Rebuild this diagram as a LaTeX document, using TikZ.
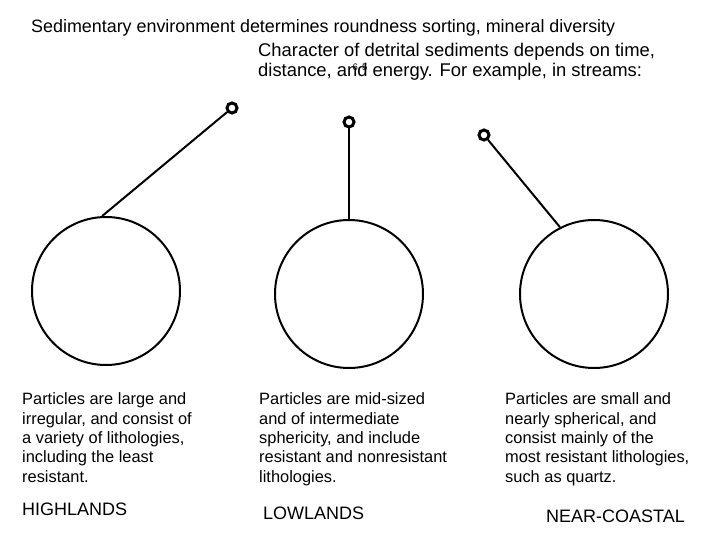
\documentclass[tikz,border=0pt]{standalone}
\usepackage{fontspec}
\setmainfont{Liberation Sans}
\usetikzlibrary{positioning}

\begin{document}
\begin{tikzpicture} [x=1pt, y=-1pt,
        pin/.style = {circle, draw, line width=3pt, minimum size=10pt, inner sep=0pt},
        ball/.style = {circle, draw, line width=2pt, minimum size=148pt, inner sep=0pt},
        stem/.style = {line width=2pt},
        head/.style = {anchor=base west, inner sep=0pt, font=\fontsize{18.4}{22}\selectfont},
        note/.style = {anchor=base west, align=left, inner sep=0pt, font=\fontsize{16.4}{19.3}\selectfont},
        place/.style = {anchor=base west, inner sep=0pt, font=\fontsize{18}{20}\selectfont}]
        \useasboundingbox (0,0) rectangle (720,540);

        \node (title) [head, font=\fontsize{17.9}{22}\selectfont] at (31,33) {Sedimentary environment determines roundness sorting, mineral diversity};
        \node (sub1) [head] at (258,57) {Character of detrital sediments depends on time,};
        \node (sub2) [head] at (258,77) {distance, and energy. For example, in streams:};
        \node (refs) [inner sep=0pt, font=\fontsize{9.5}{10}\selectfont] at (360,67) {6\hspace{4pt}5};

        \node (p1) [pin] at (232,108) {};
        \node (p2) [pin] at (349,122) {};
        \node (p3) [pin] at (484,135) {};

        \node (b1) [ball] at (106,291) {};
        \node (b2) [ball] at (349,294) {};
        \node (b3) [ball] at (594,294) {};

        \draw [stem] (p1) -- (b1.93);
        \draw [stem] (p2) -- (b2.north);
        \draw [stem] (p3) -- (b3.117);

        \node (t1) [note] at (22,482) {Particles are large and\\irregular, and consist of\\a variety of lithologies,\\including the least\\resistant.};
        \node (t2) [note] at (259,482) {Particles are mid-sized\\and of intermediate\\sphericity, and include\\resistant and nonresistant\\lithologies.};
        \node (t3) [note] at (505,482) {Particles are small and\\nearly spherical, and\\consist mainly of the\\most resistant lithologies,\\such as quartz.};

        \node (h1) [place] at (22,515) {HIGHLANDS};
        \node (h2) [place] at (263,519) {LOWLANDS};
        \node (h3) [place] at (546,522) {NEAR-COASTAL};
\end{tikzpicture}
\end{document}
